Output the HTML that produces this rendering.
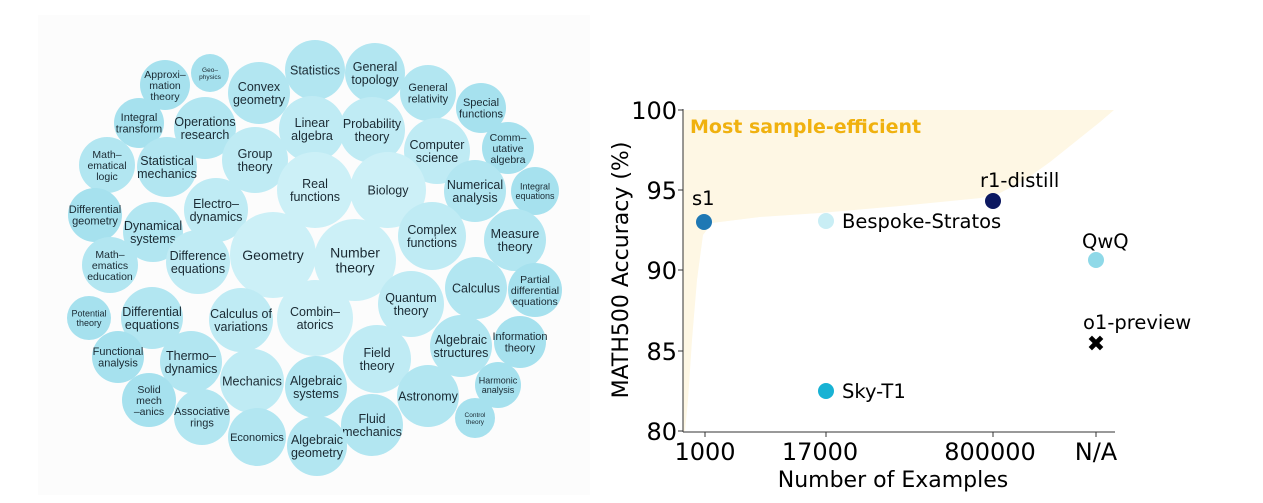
<!DOCTYPE html>
<html><head><meta charset="utf-8"><style>
html,body{margin:0;padding:0;background:#fff;}
svg{display:block;}
.b text{font-family:"Liberation Sans",sans-serif;fill:#1a2a33;text-anchor:middle;}
.c text{font-family:"DejaVu Sans","Liberation Sans",sans-serif;fill:#000;}
</style></head><body>
<svg width="1263" height="503" viewBox="0 0 1263 503" xmlns="http://www.w3.org/2000/svg">
<rect x="38" y="15" width="552" height="480" fill="#fcfcfc"/>
<g class="b" id="bubbles"></g>
<g class="c">
<polygon points="683,110 1114,110 1100,122 1075,142 1050,162 1025,180 1000,193 981,198 900,206 820,213 760,217 712,223 703,235 697,280 692,340 688,400 685,431 683,431" fill="#fef7e4"/>
<text x="690" y="133" font-size="19" font-weight="bold" style="fill:#f0b10f">Most sample-efficient</text>
<line x1="683" y1="109" x2="683" y2="432" stroke="#333" stroke-width="1"/>
<line x1="683" y1="432" x2="1115" y2="432" stroke="#333" stroke-width="1"/>
<g stroke="#333"><line x1="678" y1="110" x2="683" y2="110"/><line x1="678" y1="190" x2="683" y2="190"/><line x1="678" y1="270" x2="683" y2="270"/><line x1="678" y1="351" x2="683" y2="351"/><line x1="678" y1="431" x2="683" y2="431"/>
<line x1="705" y1="432" x2="705" y2="437"/><line x1="826" y1="432" x2="826" y2="437"/><line x1="993" y1="432" x2="993" y2="437"/><line x1="1096" y1="432" x2="1096" y2="437"/></g>
<g font-size="24" text-anchor="end"><text x="677" y="119">100</text><text x="677" y="199">95</text><text x="677" y="279">90</text><text x="677" y="360">85</text><text x="677" y="440">80</text></g>
<g font-size="24" text-anchor="middle"><text x="705" y="460">1000</text><text x="820" y="460">17000</text><text x="990" y="460">800000</text><text x="1096" y="460">N/A</text></g>
<text x="893" y="487" font-size="22" text-anchor="middle">Number of Examples</text>
<text transform="translate(628,270) rotate(-90)" font-size="22" text-anchor="middle">MATH500 Accuracy (%)</text>
<circle cx="704" cy="222" r="8" fill="#1f78b4"/>
<circle cx="826" cy="221" r="8" fill="#c9eef5"/>
<circle cx="993" cy="201" r="8" fill="#0c1860"/>
<circle cx="1096" cy="260" r="8" fill="#8fd9e8"/>
<circle cx="826" cy="391" r="8" fill="#18b2d4"/>
<text x="1096" y="351" font-size="22" text-anchor="middle" font-weight="bold">✖</text>
<g font-size="19.5"><text x="692" y="205">s1</text><text x="842" y="228">Bespoke-Stratos</text><text x="980" y="187">r1-distill</text><text x="1082" y="248">QwQ</text><text x="1083" y="329">o1-preview</text><text x="842" y="398">Sky-T1</text></g>
</g>
</svg>
<script>
var B=[[315,70,30,"Statistics"],[375,73,30,"General|topology"],[428,93,28,"General|relativity"],[481,108,25,"Special|functions"],[508,148,26,"Comm–|utative|algebra"],[535,191,24,"Integral|equations"],[515,240,31,"Measure|theory"],[535,290,27,"Partial|differential|equations"],[520,342,26,"Information|theory"],[498,385,23,"Harmonic|analysis"],[475,418,20,"Control|theory"],[165,85,25,"Approxi–|mation|theory"],[210,73,19,"Geo–|physics"],[259,93,31,"Convex|geometry"],[205,128,31,"Operations|research"],[139,123,25,"Integral|transform"],[312,129,33,"Linear|algebra"],[372,130,33,"Probability|theory"],[437,151,33,"Computer|science"],[107,165,28,"Math–|ematical|logic"],[167,167,30,"Statistical|mechanics"],[255,160,33,"Group|theory"],[315,190,38,"Real|functions"],[388,190,38,"Biology"],[475,191,31,"Numerical|analysis"],[95,215,27,"Differential|geometry"],[153,232,30,"Dynamical|systems"],[216,210,32,"Electro–|dynamics"],[273,255,43,"Geometry"],[355,260,41,"Number|theory"],[432,236,34,"Complex|functions"],[110,265,28,"Math–|ematics|education"],[198,262,32,"Difference|equations"],[476,288,31,"Calculus"],[411,304,33,"Quantum|theory"],[89,318,22,"Potential|theory"],[152,318,31,"Differential|equations"],[241,320,32,"Calculus of|variations"],[315,318,38,"Combin–|atorics"],[461,346,31,"Algebraic|structures"],[118,357,26,"Functional|analysis"],[191,362,31,"Thermo–|dynamics"],[377,359,34,"Field|theory"],[252,381,32,"Mechanics"],[316,387,31,"Algebraic|systems"],[428,396,31,"Astronomy"],[149,400,27,"Solid|mech|–anics"],[202,417,28,"Associative|rings"],[372,425,31,"Fluid|mechanics"],[257,437,29,"Economics"],[317,446,30,"Algebraic|geometry"]];
var g=document.getElementById("bubbles"),h="";
B.forEach(function(b){var r=b[2];var col=r>=37?"#ccf0f7":r>=32?"#bfebf4":r>=28?"#b2e6f1":"#a6e1ee";
h+='<circle cx="'+b[0]+'" cy="'+b[1]+'" r="'+r+'" fill="'+col+'"/>';
var L=b[3].split("|");var fs=r>=40?14:r>=30?12.5:r>=25?11:r>=21?9:6.5;if(L.length==3&&r<30)fs=Math.min(fs,10.5);
var lh=fs*1.05;var y0=b[1]-(L.length-1)*lh/2+fs*0.36;
L.forEach(function(t,i){h+='<text x="'+b[0]+'" y="'+(y0+i*lh)+'" font-size="'+fs+'">'+t+'</text>';});});
g.innerHTML=h;
</script>
</body></html>
